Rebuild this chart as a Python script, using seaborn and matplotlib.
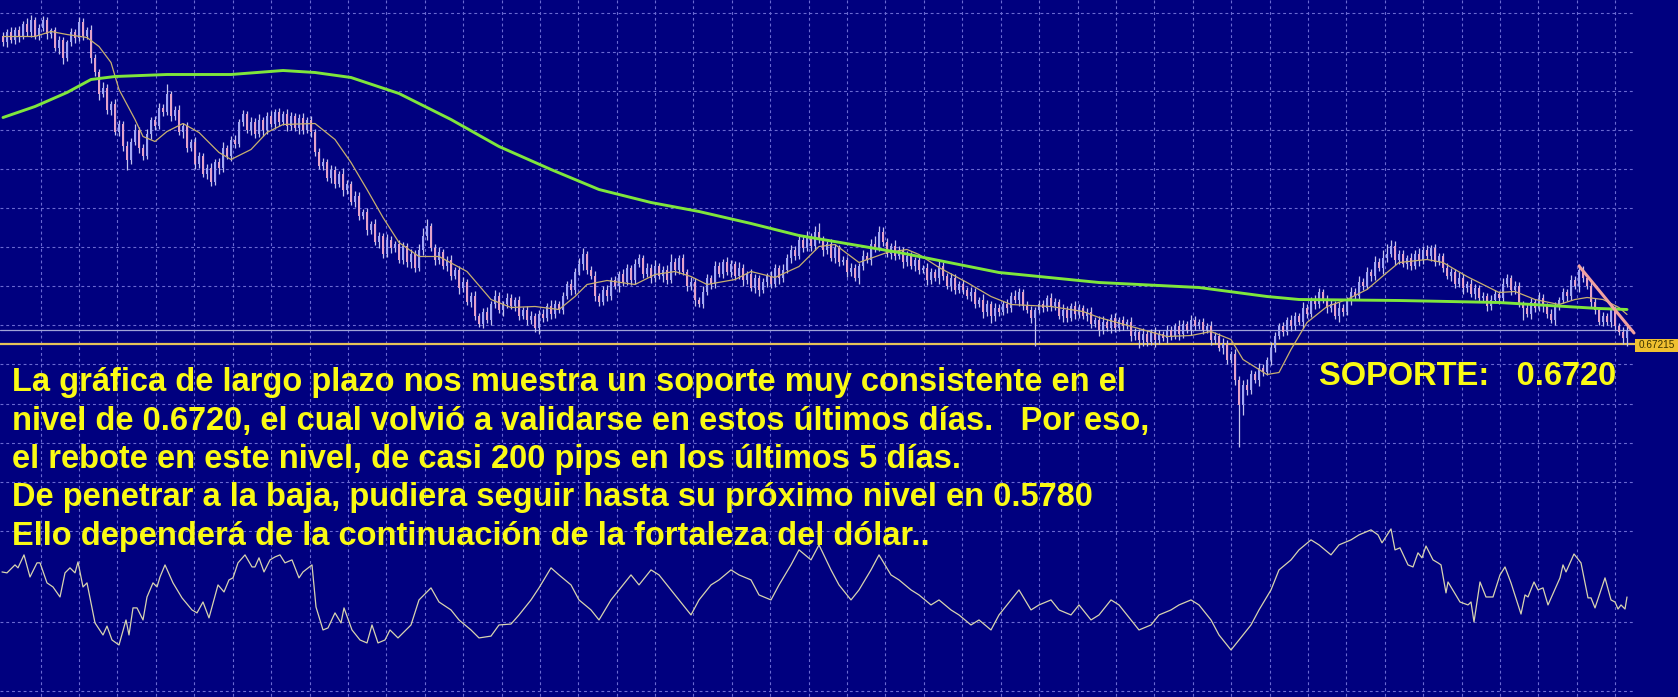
import numpy as np
import pandas as pd
import matplotlib
matplotlib.use("Agg")
import matplotlib.pyplot as plt
import seaborn as sns
from matplotlib.patches import Rectangle

# ---------------- data (prices in pips, 1 pip = 0.0001) ----------------
first_open = 7030

close = [
    7024, 7034, 7026, 7036, 7030, 7042, 7034, 7046, 7030, 7038,
    7046, 7032, 7036, 7018, 7026, 7008, 7024, 7034, 7028, 7044,
    7030, 7036, 7008, 6994, 6972, 6978, 6956, 6962, 6934, 6942,
    6920, 6906, 6924, 6936, 6918, 6910, 6932, 6946, 6940, 6958,
    6954, 6972, 6950, 6956, 6934, 6940, 6918, 6924, 6902, 6910,
    6892, 6898, 6884, 6904, 6898, 6918, 6910, 6926, 6922, 6944,
    6952, 6936, 6944, 6932, 6946, 6936, 6950, 6942, 6954, 6944,
    6952, 6940, 6950, 6938, 6948, 6936, 6946, 6934, 6914, 6900,
    6904, 6888, 6896, 6882, 6892, 6876, 6882, 6864, 6870, 6850,
    6854, 6836, 6842, 6824, 6830, 6812, 6826, 6818, 6822, 6806,
    6820, 6804, 6812, 6798, 6816, 6830, 6840, 6818, 6806, 6814,
    6800, 6806, 6790, 6796, 6778, 6784, 6764, 6770, 6750, 6742,
    6754, 6746, 6762, 6770, 6756, 6762, 6768, 6760, 6766, 6750,
    6756, 6746, 6750, 6738, 6752, 6748, 6760, 6752, 6762, 6756,
    6770, 6782, 6776, 6794, 6802, 6812, 6796, 6790, 6770, 6764,
    6776, 6770, 6786, 6780, 6792, 6784, 6798, 6786, 6802, 6808,
    6792, 6798, 6788, 6800, 6790, 6796, 6786, 6804, 6796, 6808,
    6794, 6780, 6784, 6766, 6762, 6774, 6788, 6782, 6800, 6792,
    6804, 6794, 6802, 6790, 6798, 6786, 6792, 6778, 6788, 6776,
    6784, 6790, 6782, 6798, 6788, 6796, 6808, 6816, 6810, 6826,
    6818, 6830, 6820, 6834, 6826, 6816, 6822, 6808, 6818, 6804,
    6806, 6794, 6798, 6788, 6800, 6810, 6806, 6822, 6818, 6834,
    6824, 6812, 6820, 6810, 6816, 6804, 6810, 6800, 6806, 6796,
    6798, 6786, 6794, 6788, 6800, 6790, 6780, 6788, 6776, 6782,
    6776, 6770, 6774, 6762, 6766, 6754, 6762, 6750, 6758, 6754,
    6762, 6758, 6770, 6766, 6774, 6760, 6756, 6748, 6756, 6762,
    6758, 6768, 6760, 6764, 6750, 6756, 6748, 6760, 6752, 6758,
    6750, 6754, 6742, 6746, 6736, 6744, 6738, 6748, 6738, 6746,
    6740, 6744, 6730, 6734, 6726, 6732, 6724, 6734, 6726, 6732,
    6728, 6736, 6730, 6740, 6732, 6742, 6736, 6746, 6740, 6744,
    6736, 6740, 6726, 6730, 6718, 6722, 6706, 6712, 6686, 6661,
    6681, 6676, 6692, 6686, 6698, 6694, 6706, 6718, 6730, 6740,
    6734, 6746, 6740, 6750, 6744, 6758, 6752, 6766, 6762, 6774,
    6766, 6758, 6762, 6750, 6758, 6754, 6766, 6774, 6770, 6784,
    6780, 6794, 6790, 6804, 6798, 6808, 6812, 6820, 6806, 6812,
    6802, 6808, 6800, 6812, 6806, 6816, 6810, 6818, 6804, 6810,
    6798, 6790, 6794, 6782, 6788, 6778, 6782, 6772, 6778, 6768,
    6770, 6760, 6766, 6772, 6768, 6782, 6788, 6776, 6780, 6762,
    6758, 6752, 6764, 6758, 6768, 6760, 6752, 6746, 6760, 6766,
    6774, 6770, 6786, 6780, 6796, 6788, 6780, 6764, 6756, 6744,
    6750, 6744, 6756, 6740, 6734, 6728, 6736,
]

# wick lengths above / below the candle body, pips
wick_up = [
    4, 3, 5, 3, 4, 3, 6, 5, 3, 4,
    4, 3, 2, 3, 4, 3, 2, 4, 3, 5,
    4, 3, 5, 4, 3, 6, 4, 3, 5, 4,
    3, 5, 4, 6, 3, 4, 5, 3, 4, 5,
    4, 10, 3, 4, 5, 3, 4, 3, 5, 4,
    3, 4, 5, 3, 4, 6, 3, 4, 5, 3,
    4, 3, 5, 4, 6, 3, 4, 5, 3, 4,
    3, 5, 4, 3, 4, 5, 3, 4, 3, 4,
    4, 3, 5, 4, 3, 6, 4, 3, 5, 4,
    3, 4, 3, 5, 4, 3, 6, 4, 3, 4,
    4, 3, 5, 4, 6, 8, 7, 3, 4, 5,
    3, 4, 5, 3, 4, 5, 3, 4, 5, 3,
    4, 5, 3, 6, 4, 3, 5, 4, 3, 4,
    3, 4, 5, 3, 4, 5, 3, 6, 4, 3,
    4, 3, 5, 4, 6, 6, 3, 4, 5, 3,
    4, 5, 3, 4, 3, 5, 4, 3, 5, 4,
    3, 5, 4, 6, 3, 4, 5, 8, 4, 3,
    4, 3, 5, 4, 3, 6, 4, 3, 5, 4,
    3, 5, 4, 3, 6, 4, 3, 5, 4, 3,
    4, 3, 5, 4, 3, 6, 4, 5, 4, 6,
    4, 5, 3, 6, 9, 4, 3, 5, 4, 3,
    4, 3, 5, 4, 3, 6, 4, 5, 8, 6,
    5, 4, 3, 6, 4, 3, 5, 4, 3, 4,
    3, 5, 4, 3, 6, 4, 3, 5, 4, 3,
    4, 3, 5, 4, 3, 6, 4, 3, 5, 4,
    3, 5, 4, 6, 4, 3, 5, 4, 3, 4,
    4, 3, 5, 4, 3, 6, 4, 3, 5, 4,
    3, 4, 5, 3, 4, 6, 3, 4, 5, 3,
    4, 3, 5, 4, 3, 6, 4, 3, 5, 4,
    3, 5, 4, 3, 6, 4, 3, 5, 4, 3,
    4, 3, 5, 4, 3, 6, 4, 3, 5, 4,
    5, 6, 4, 3, 5, 4, 3, 6, 4, 3,
    4, 3, 5, 4, 3, 6, 4, 3, 5, 4,
    3, 5, 4, 3, 6, 4, 3, 5, 4, 6,
    4, 5, 3, 6, 4, 8, 10, 6, 5, 4,
    4, 3, 5, 4, 6, 4, 5, 3, 4, 3,
    3, 5, 4, 3, 6, 4, 3, 5, 4, 3,
    4, 3, 5, 4, 3, 6, 4, 3, 5, 4,
    3, 5, 4, 3, 6, 4, 3, 5, 4, 3,
    4, 3, 5, 4, 6, 4, 3, 5, 4, 3,
    4, 3, 5, 4, 3, 5, 4,
]
wick_dn = [
    4, 5, 3, 4, 6, 3, 4, 5, 3, 4,
    3, 5, 4, 3, 6, 6, 3, 4, 5, 3,
    4, 3, 5, 4, 6, 3, 4, 5, 3, 4,
    5, 10, 4, 3, 5, 4, 3, 5, 4, 3,
    4, 3, 5, 4, 3, 6, 4, 3, 5, 4,
    3, 5, 4, 3, 6, 4, 3, 5, 4, 3,
    4, 3, 5, 4, 3, 6, 4, 3, 5, 4,
    3, 5, 4, 3, 6, 4, 3, 5, 4, 3,
    4, 3, 5, 4, 3, 6, 4, 3, 5, 4,
    3, 5, 4, 3, 6, 4, 3, 5, 4, 3,
    4, 5, 6, 4, 3, 5, 4, 3, 5, 4,
    3, 5, 4, 3, 6, 4, 3, 5, 4, 3,
    4, 3, 5, 4, 3, 6, 4, 3, 5, 4,
    3, 5, 4, 4, 6, 4, 3, 5, 4, 3,
    4, 3, 5, 4, 3, 6, 4, 3, 5, 4,
    3, 5, 4, 3, 6, 4, 3, 5, 4, 3,
    4, 3, 5, 4, 3, 6, 4, 3, 5, 4,
    3, 5, 4, 6, 3, 4, 3, 5, 4, 3,
    4, 3, 5, 4, 3, 6, 4, 3, 5, 6,
    3, 5, 4, 3, 6, 4, 3, 5, 4, 3,
    4, 3, 5, 4, 3, 6, 4, 3, 5, 4,
    3, 5, 4, 3, 6, 4, 3, 5, 4, 3,
    4, 3, 5, 4, 3, 6, 4, 3, 5, 4,
    3, 5, 4, 3, 6, 4, 3, 5, 4, 3,
    4, 3, 5, 4, 3, 6, 4, 7, 5, 4,
    3, 5, 4, 3, 6, 4, 3, 5, 28, 3,
    4, 3, 5, 4, 3, 6, 4, 3, 5, 4,
    3, 5, 4, 3, 6, 4, 3, 5, 4, 3,
    4, 3, 5, 4, 8, 6, 4, 3, 7, 4,
    3, 5, 4, 3, 6, 4, 3, 5, 4, 3,
    4, 3, 5, 4, 3, 6, 4, 3, 5, 42,
    10, 5, 4, 3, 6, 4, 3, 5, 4, 3,
    4, 3, 5, 4, 3, 6, 4, 3, 5, 4,
    3, 5, 4, 3, 6, 4, 3, 5, 4, 3,
    4, 3, 5, 4, 3, 6, 4, 3, 5, 4,
    3, 5, 4, 3, 6, 4, 3, 5, 4, 3,
    4, 3, 5, 4, 3, 6, 4, 3, 5, 4,
    3, 5, 4, 3, 6, 4, 3, 5, 4, 3,
    12, 3, 5, 4, 3, 6, 4, 3, 5, 4,
    3, 5, 4, 3, 6, 4, 3, 5, 4, 3,
    4, 3, 5, 4, 3, 6, 8,
]

# slow moving average (green), read at bar positions
ma_slow_idx = [0, 8, 16, 22, 28, 41, 57, 70, 78, 87, 99, 112, 124, 137, 149,
               162, 174, 187, 199, 224, 249, 274, 299, 316, 324, 349, 374, 399, 406]
ma_slow = [6948, 6959, 6973, 6986, 6989, 6991, 6991, 6995, 6993, 6988, 6972, 6946,
           6919, 6896, 6876, 6863, 6854, 6842, 6830, 6813, 6793, 6783, 6778, 6769,
           6766, 6765, 6763, 6757, 6756]

# fast moving average (thin tan line)
ma_fast_idx = [0, 8, 12, 16, 21, 24, 27, 29, 33, 35, 38, 41, 45, 49, 54, 57, 62, 66,
               70, 78, 83, 87, 91, 95, 99, 104, 109, 116, 122, 127, 133, 139, 143,
               146, 151, 158, 163, 168, 172, 176, 183, 187, 193, 199, 204, 208, 214,
               221, 226, 229, 234, 241, 247, 252, 262, 270, 274, 283, 291, 297, 302,
               307, 310, 314, 316, 319, 322, 326, 331, 336, 341, 346, 349, 356, 360,
               366, 370, 374, 378, 383, 389, 393, 396, 400, 404, 406]
ma_fast = [7029, 7029, 7034, 7031, 7028, 7019, 7003, 6976, 6946, 6929, 6924, 6934,
           6942, 6933, 6913, 6906, 6916, 6933, 6941, 6942, 6926, 6903, 6876, 6848,
           6823, 6809, 6809, 6794, 6766, 6758, 6759, 6756, 6769, 6781, 6785, 6781,
           6791, 6794, 6789, 6781, 6786, 6794, 6788, 6799, 6819, 6821, 6803, 6813,
           6816, 6811, 6798, 6783, 6769, 6761, 6759, 6754, 6748, 6738, 6729, 6730,
           6734, 6726, 6706, 6696, 6691, 6693, 6716, 6743, 6759, 6766, 6776, 6793,
           6803, 6806, 6803, 6789, 6781, 6773, 6774, 6766, 6761, 6766, 6768, 6766,
           6758, 6751]

# oscillator (RSI-like, levels 70 / 30)
osc_idx_a = [-0.25, 1, 1.75, 3, 3.75, 5.25, 6.75, 8.5, 9.25, 11,
             12.5, 14.25, 15.5, 16.75, 18, 18.75, 20, 21, 23, 25,
             26, 27.25, 29, 30.75, 31.5, 32.5, 33.5, 35, 36, 37.5,
             38.5, 39.25, 40.5, 42.5, 44.75, 47.25, 48.5, 50, 51.5, 53.75,
             55.25, 56.5, 57.5, 58.75, 60.5, 62.25, 63, 64, 65.25, 66.75,
             68, 69.25, 70.5, 72.25, 74, 75, 77.25, 78.25, 80, 81.25,
             83, 84.5, 85.25, 87.25, 89.25, 91, 92.25, 93.75, 95.5, 96.75, 98.75]
osc_val_a = [52, 51.6, 52.9, 55.1, 53.8, 59.5, 49.8, 56, 56, 47.2,
             45.4, 41, 51.6, 53.8, 51.6, 56.4, 45.4, 47.2, 29.6, 24.3,
             28.2, 22.1, 19.9, 30.9, 24.3, 36.2, 36.2, 30.9, 41, 47.2,
             45.4, 49.8, 55.1, 47.2, 40.6, 35.3, 34, 38.8, 31.8, 46.3,
             43.2, 48.5, 49.4, 56, 59.5, 54.2, 54.2, 58.2, 52, 57.3,
             58.6, 59.5, 56, 57.3, 49.4, 52, 55.1, 36.6, 26.5, 27.4,
             34, 29.6, 36.2, 26.5, 22.1, 20.8, 28.7, 20.8, 22.1, 26.5, 23]
osc_idx_b = [102, 104, 107, 109, 112, 114, 117, 119, 122, 124,
             127, 129, 132, 134, 137, 139, 142, 144, 147, 149,
             152, 154, 157, 159, 162, 164, 167, 169, 172, 174,
             177, 179, 182, 184, 187, 189, 192, 194, 197, 199,
             202, 204, 207, 209, 212, 214, 217, 219, 222, 224,
             227, 229, 232, 234, 237, 239, 242, 244, 247, 249,
             252, 254, 257, 259, 262, 264, 267, 269, 272, 274,
             277, 279, 282, 284, 287, 289, 292, 294, 297, 299,
             302, 304, 307, 309, 312, 314, 317, 319, 322, 324,
             327, 329, 332, 334, 337, 339, 342]
osc_val_b = [28.7, 39.7, 45, 38.8, 35.3, 30.9, 26.5, 23, 23.8, 28.7,
             29.1, 33.1, 39.7, 45, 53.8, 50.7, 46.3, 39.7, 35.3, 30.9,
             39.7, 44.1, 50.7, 46.3, 52.9, 50.7, 44.1, 39.7, 33.1, 39.7,
             46.3, 48.5, 52.9, 50.7, 48.5, 41.9, 39.7, 46.3, 55.1, 61.7,
             57.3, 63.9, 52.9, 46.3, 39.7, 44.1, 52.9, 59.5, 50.7, 48.5,
             44.1, 41.9, 37.5, 39.7, 35.3, 33.1, 28.7, 30.9, 26.5, 33.1,
             39.7, 44.1, 35.3, 37.5, 39.7, 35.3, 33.1, 37.5, 30.9, 33.1,
             39.7, 37.5, 30.9, 26.5, 28.7, 33.1, 35.3, 37.5, 39.7, 37.5,
             30.9, 24.3, 17.7, 22.1, 28.7, 35.3, 44.1, 52.9, 57.3, 61.7,
             66.1, 63.9, 59.5, 63.9, 66.1, 68.3, 70.5]
osc_idx_c = [343.75, 344.75, 347, 348, 349.25, 351.25, 352.5, 353.75, 354.75, 355.75,
             357.5, 358.75, 359.5, 360.75, 361.25, 364.25, 366.25, 367, 367.75, 369.25,
             370.75, 372.5, 374.25, 375.5, 377, 379.5, 380.5, 381.25, 382.75, 383.75,
             385, 386.25, 389.25, 390, 390.75, 392.75, 394.5, 396.25, 397, 398,
             400.5, 402, 403, 403.75, 404.5, 405.5, 406]
osc_val_c = [68.3, 64.8, 70.9, 61.7, 62.6, 55.1, 54.2, 60.4, 58.2, 63.4,
             57.3, 56, 55.1, 42.8, 47.6, 38.8, 37.5, 38.8, 30, 47.6,
             41, 41, 50.7, 54.2, 47.2, 33.5, 41.9, 41, 47.6, 44.1,
             45, 37.5, 49.4, 55.1, 52, 59.9, 56, 40.6, 40.6, 36.2,
             49.4, 39.7, 38.8, 35.7, 37.5, 35.7, 41]

support = 6721.5          # 0.67215
level_line = 6735.5
trend_idx = [394, 407.75]
trend_val = [6799.5, 6732.5]

text_lines = [
    "La gráfica de largo plazo nos muestra un soporte muy consistente en el",
    "nivel de 0.6720, el cual volvió a validarse en estos últimos días.   Por eso,",
    "el rebote en este nivel, de casi 200 pips en los últimos 5 días.",
    "De penetrar a la baja, pudiera seguir hasta su próximo nivel en 0.5780",
    "Ello dependerá de la continuación de la fortaleza del dólar..",
]
support_text = "SOPORTE:   0.6720"
price_tag = "0.67215"

# ---------------- style ----------------
BG = "#00007f"
GRID = "#6a6ad2"
BULL = "#a2a6f4"
BEAR = "#e4a2ca"
WICK = "#c4c4ee"
GREEN = "#7fe63c"
FAST = "#c8b070"
OSC = "#d8d4b0"
YELLOW = "#fafa14"

sns.set_theme(style="dark")
plt.rcParams["font.family"] = ["Liberation Sans", "DejaVu Sans"]

W, H = 1678, 697
fig = plt.figure(figsize=(W / 100, H / 100), dpi=100)
fig.patch.set_facecolor(BG)

# background axes in pixel coordinates for the chart grid
bg = fig.add_axes([0, 0, 1, 1], zorder=0)
bg.set_xlim(0, W)
bg.set_ylim(H, 0)
bg.set_facecolor(BG)
bg.axis("off")
dash = (0, (2.6, 2.6))
for k in range(1, 43):
    x = 2.3 + 38.4 * k
    bg.plot([x, x], [0, H], color=GRID, lw=0.8, ls=dash)
for k in range(0, 13):
    y = 12.5 + 39.1 * k
    bg.plot([0, 1633], [y, y], color=GRID, lw=0.8, ls=dash)
bg.plot([0, 1633], [691, 691], color=GRID, lw=0.8, ls=dash)

# main price panel
XL = (-0.75, 418.75)
main = fig.add_axes([0, 192 / H, 1, 505 / H], zorder=1)
main.set_facecolor("none")
main.set_xlim(*XL)
main.set_ylim(7065.5 - 505, 7065.5)
main.axis("off")

df = pd.DataFrame({"close": close})
n = len(df)
df["open"] = [first_open] + close[:-1]
df["idx"] = np.arange(n)
top = df[["open", "close"]].max(axis=1)
bot = df[["open", "close"]].min(axis=1)
df["high"] = top + np.array(wick_up[:n])
df["low"] = bot - np.array(wick_dn[:n])
up = df["close"] >= df["open"]

main.axhline(level_line, xmin=0, xmax=1633 / W, color="#a0a4d8", lw=0.9)
main.axhline(support, xmin=0, xmax=1635 / W, color="#e6c25a", lw=1.6)

main.vlines(df["idx"], df["low"], df["high"], color=WICK, lw=0.9, zorder=2)
main.bar(df["idx"], (top - bot).clip(lower=1.2), bottom=bot, width=0.72,
         color=np.where(up, BULL, BEAR), linewidth=0, zorder=3)

sns.lineplot(x=ma_fast_idx, y=ma_fast, ax=main, color=FAST, lw=0.9,
             sort=False, estimator=None, zorder=4)
sns.lineplot(x=ma_slow_idx, y=ma_slow, ax=main, color=GREEN, lw=2.1,
             sort=False, estimator=None, zorder=5)
main.plot(trend_idx, trend_val, color="#f2a2a0", lw=2.2, solid_capstyle="round", zorder=6)
main.set_xlabel("")
main.set_ylabel("")

# oscillator panel
osc = fig.add_axes([0, 0, 1, 192 / H], zorder=1)
osc.set_facecolor("none")
osc.set_xlim(*XL)
osc.set_ylim(30 - 75 / 2.275, 30 + 117 / 2.275)
osc.axis("off")
for lv in (70, 30):
    osc.axhline(lv, xmin=0, xmax=1633 / W, color=GRID, lw=0.8, ls=dash)
sns.lineplot(x=osc_idx_a + osc_idx_b + osc_idx_c, y=osc_val_a + osc_val_b + osc_val_c,
             ax=osc, color=OSC, lw=0.9, sort=False, estimator=None)
osc.set_xlabel("")
osc.set_ylabel("")

# overlay for texts
tx = fig.add_axes([0, 0, 1, 1], zorder=3)
tx.set_xlim(0, W)
tx.set_ylim(H, 0)
tx.set_facecolor("none")
tx.axis("off")
for k, line in enumerate(text_lines):
    tx.text(12, 391.5 + 38.3 * k, line, color=YELLOW, fontsize=23.5,
            fontweight="bold", va="baseline", ha="left")
tx.text(1616, 385, support_text, color=YELLOW, fontsize=23.5,
        fontweight="bold", va="baseline", ha="right")
tx.add_patch(Rectangle((1635, 339), 43, 12.5, facecolor="#f0c030", edgecolor="none"))
tx.text(1656.5, 345.5, price_tag, color="#3a3000", fontsize=7.2, ha="center", va="center")

fig.savefig("out.png", dpi=100, facecolor=BG)
